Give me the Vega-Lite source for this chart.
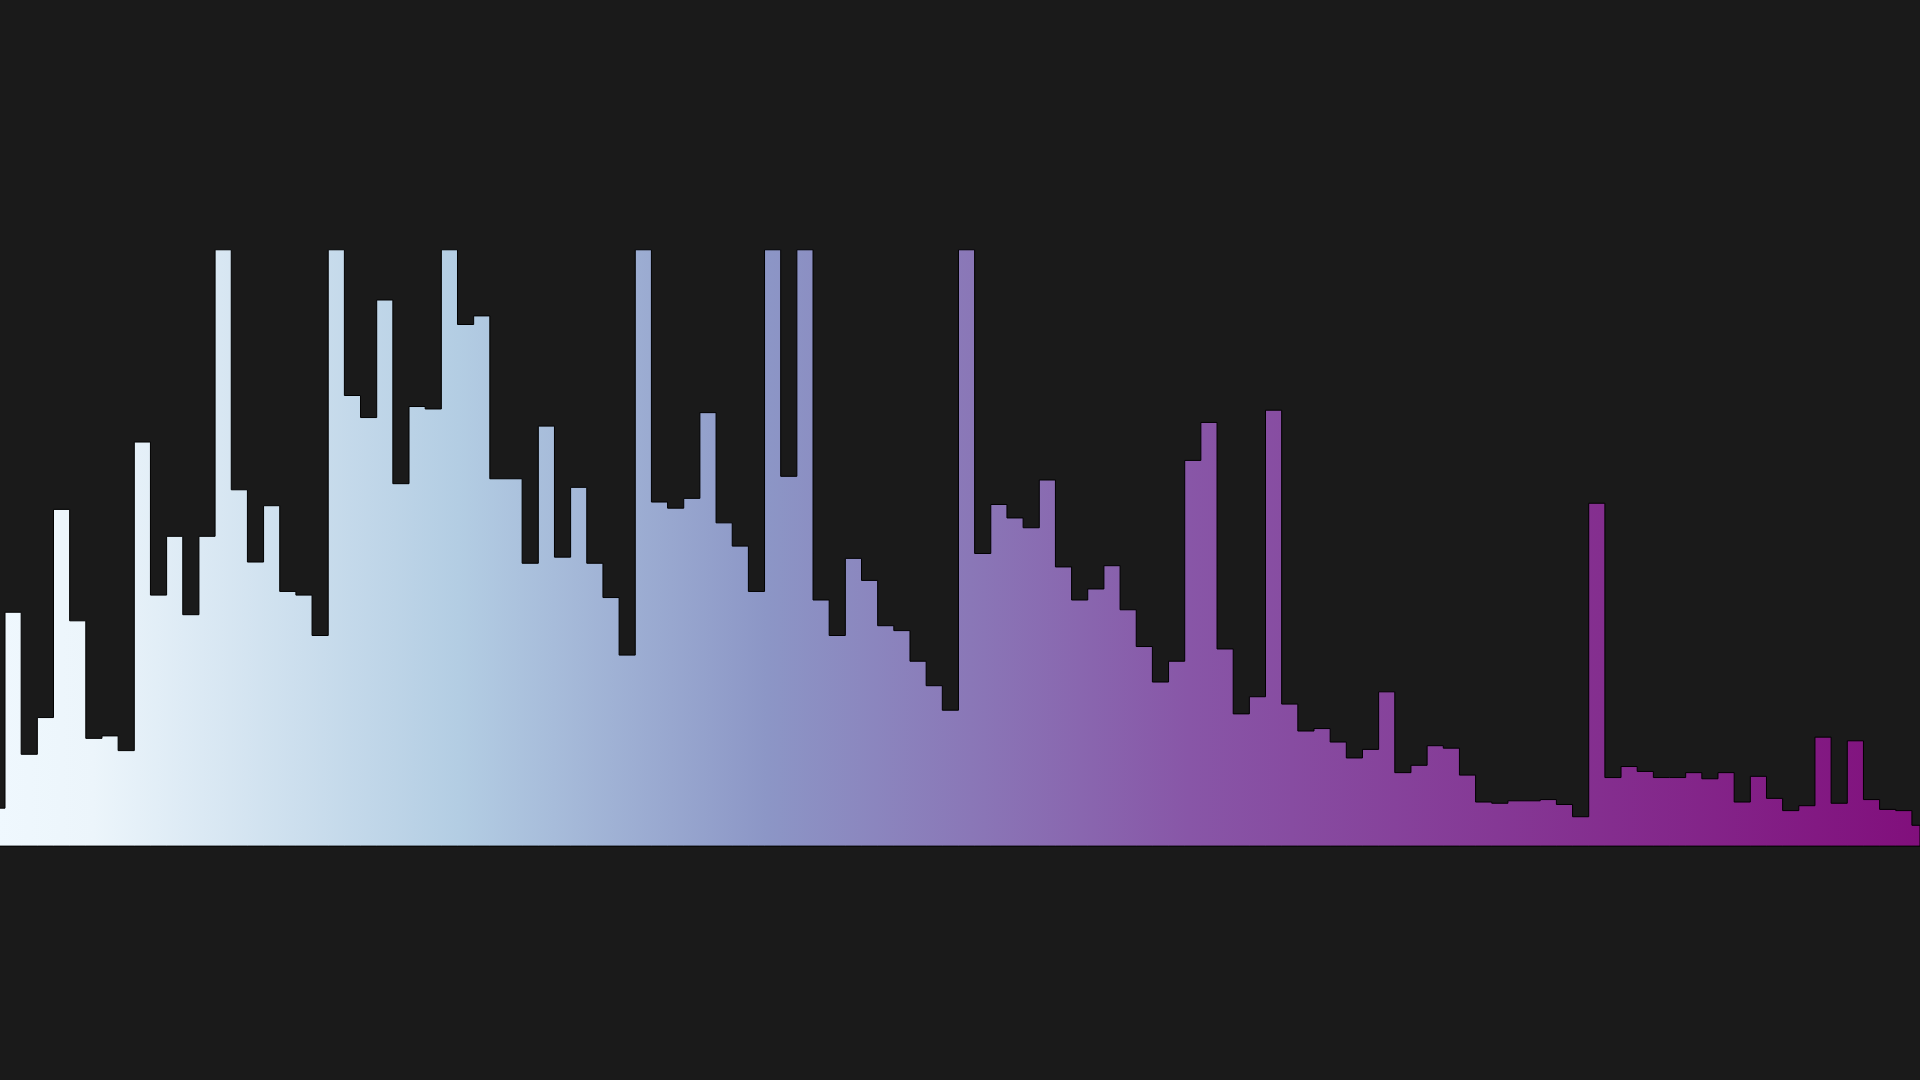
{
  "$schema": "https://vega.github.io/schema/vega-lite/v6.json",
  "width": 1920,
  "height": 1080,
  "autosize": {"type": "none"},
  "padding": 0,
  "background": "#1a1a1a",
  "config": {"view": {"stroke": null}},
  "data": {
    "values": [
      {"i": 0, "v": 31}, {"i": 1, "v": 191}, {"i": 2, "v": 75}, {"i": 3, "v": 105}, {"i": 4, "v": 275},
      {"i": 5, "v": 184}, {"i": 6, "v": 88}, {"i": 7, "v": 90}, {"i": 8, "v": 78}, {"i": 9, "v": 330},
      {"i": 10, "v": 205}, {"i": 11, "v": 253}, {"i": 12, "v": 189}, {"i": 13, "v": 253}, {"i": 14, "v": 487},
      {"i": 15, "v": 291}, {"i": 16, "v": 232}, {"i": 17, "v": 278}, {"i": 18, "v": 208}, {"i": 19, "v": 205},
      {"i": 20, "v": 172}, {"i": 21, "v": 487}, {"i": 22, "v": 368}, {"i": 23, "v": 350}, {"i": 24, "v": 446},
      {"i": 25, "v": 296}, {"i": 26, "v": 359}, {"i": 27, "v": 357}, {"i": 28, "v": 487}, {"i": 29, "v": 426},
      {"i": 30, "v": 433}, {"i": 31, "v": 300}, {"i": 32, "v": 300}, {"i": 33, "v": 231}, {"i": 34, "v": 343},
      {"i": 35, "v": 236}, {"i": 36, "v": 293}, {"i": 37, "v": 231}, {"i": 38, "v": 203}, {"i": 39, "v": 156},
      {"i": 40, "v": 487}, {"i": 41, "v": 281}, {"i": 42, "v": 276}, {"i": 43, "v": 284}, {"i": 44, "v": 354},
      {"i": 45, "v": 264}, {"i": 46, "v": 245}, {"i": 47, "v": 208}, {"i": 48, "v": 487}, {"i": 49, "v": 302},
      {"i": 50, "v": 487}, {"i": 51, "v": 201}, {"i": 52, "v": 172}, {"i": 53, "v": 235}, {"i": 54, "v": 217},
      {"i": 55, "v": 180}, {"i": 56, "v": 176}, {"i": 57, "v": 151}, {"i": 58, "v": 131}, {"i": 59, "v": 111},
      {"i": 60, "v": 487}, {"i": 61, "v": 239}, {"i": 62, "v": 279}, {"i": 63, "v": 268}, {"i": 64, "v": 260},
      {"i": 65, "v": 299}, {"i": 66, "v": 228}, {"i": 67, "v": 201}, {"i": 68, "v": 210}, {"i": 69, "v": 229},
      {"i": 70, "v": 193}, {"i": 71, "v": 163}, {"i": 72, "v": 134}, {"i": 73, "v": 151}, {"i": 74, "v": 315},
      {"i": 75, "v": 346}, {"i": 76, "v": 161}, {"i": 77, "v": 108}, {"i": 78, "v": 122}, {"i": 79, "v": 356},
      {"i": 80, "v": 116}, {"i": 81, "v": 94}, {"i": 82, "v": 96}, {"i": 83, "v": 85}, {"i": 84, "v": 72},
      {"i": 85, "v": 79}, {"i": 86, "v": 126}, {"i": 87, "v": 60}, {"i": 88, "v": 66}, {"i": 89, "v": 82},
      {"i": 90, "v": 80}, {"i": 91, "v": 58}, {"i": 92, "v": 36}, {"i": 93, "v": 35}, {"i": 94, "v": 37},
      {"i": 95, "v": 37}, {"i": 96, "v": 38}, {"i": 97, "v": 34}, {"i": 98, "v": 24}, {"i": 99, "v": 280},
      {"i": 100, "v": 56}, {"i": 101, "v": 65}, {"i": 102, "v": 61}, {"i": 103, "v": 56}, {"i": 104, "v": 56},
      {"i": 105, "v": 60}, {"i": 106, "v": 55}, {"i": 107, "v": 60}, {"i": 108, "v": 36}, {"i": 109, "v": 57},
      {"i": 110, "v": 39}, {"i": 111, "v": 29}, {"i": 112, "v": 33}, {"i": 113, "v": 89}, {"i": 114, "v": 35},
      {"i": 115, "v": 86}, {"i": 116, "v": 38}, {"i": 117, "v": 30}, {"i": 118, "v": 29}, {"i": 119, "v": 17}
    ]
  },
  "mark": {
    "type": "area",
    "interpolate": "step",
    "clip": true,
    "stroke": "#000000",
    "strokeWidth": 1,
    "fill": {
      "gradient": "linear",
      "x1": 0, "x2": 1, "y1": 0, "y2": 0,
      "stops": [
        {"offset": 0, "color": "#eff8fe"},
        {"offset": 0.05, "color": "#ecf5fb"},
        {"offset": 0.24, "color": "#b3cde3"},
        {"offset": 0.4, "color": "#8c96c6"},
        {"offset": 0.62, "color": "#8856a7"},
        {"offset": 1, "color": "#810f7c"}
      ]
    }
  },
  "encoding": {
    "x": {
      "field": "i",
      "type": "quantitative",
      "scale": {"domain": [0.19, 119], "nice": false, "zero": false},
      "axis": null
    },
    "y": {
      "field": "v",
      "type": "quantitative",
      "scale": {"domain": [-191, 691], "nice": false, "zero": false},
      "axis": null
    },
    "y2": {"datum": 0}
  }
}
